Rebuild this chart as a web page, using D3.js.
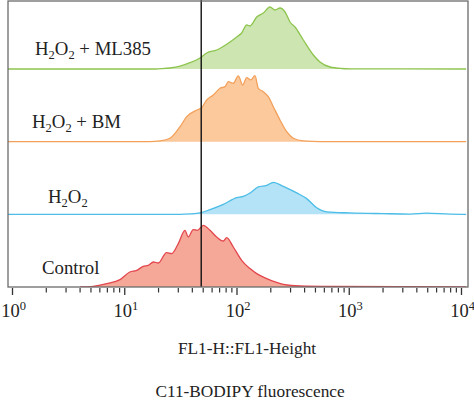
<!DOCTYPE html>
<html>
<head>
<meta charset="utf-8">
<script src="https://cdn.jsdelivr.net/npm/d3@7"></script>
<style>
  body { margin: 0; background: #fff; }
  text { font-family: "Liberation Serif", "DejaVu Serif", serif; fill: #222; }
</style>
</head>
<body>
<div id="chart"></div>
<script>
// samples, top lane first
const samples = ["H2O2 + ML385", "H2O2 + BM", "H2O2", "Control"]

// [FL1-H value, events]
const ml385Data = [[0.91, 0], [18, 0], [20.6, 0.3], [25.3, 1], [31.1, 2.8], [38.1, 6.3], [46.8, 11], [53.7, 16], [65.9, 19],
    [86.7, 27], [99.4, 32], [110, 36], [122, 44], [130.6, 43], [149.8, 52], [171.5, 56], [196.7, 62], [218, 59],
    [241.6, 61], [268, 57], [296.8, 47], [328.8, 42], [389.8, 29], [478.6, 14], [548.5, 7], [673, 2], [850, 0.5],
    [1016, 0.2], [11000, 0]]
const bmData = [[0.91, 0], [16.8, 0], [20.6, 0.7], [25.3, 3.4], [31.1, 15], [35.6, 25], [43.8, 31.7], [48.5, 34],
    [53.7, 41.7], [61.5, 46.7], [70.6, 53.4], [78.2, 55], [83.7, 60], [92.7, 58.4], [102.7, 65.7], [112.4, 56.7],
    [122, 64], [132.5, 61.7], [144.6, 66], [154.8, 53.4], [171.5, 50], [190, 45], [210.5, 35], [241.6, 21.7],
    [277.3, 10], [317.6, 3.4], [389.8, 0.7], [548, 0], [11000, 0]]
const h2o2Data = [[0.91, 0], [31.1, 0], [38.1, 0.4], [46.8, 1.4], [57.5, 4.7], [75.5, 10], [99.4, 16.7], [113.8, 18],
    [130.6, 21.3], [154.8, 27.4], [184, 29], [210.5, 32], [258.5, 28], [340.5, 21.4], [418, 15.7], [513, 6.5],
    [630, 2.4], [1016, 1.4], [2000, 0.7], [3476, 0.3], [4897, 1.2], [7900, 0.2], [11000, 0]]
const controlData = [[3.99, 0], [5.25, 0.7], [6.9, 3.4], [9.07, 7.4], [11.1, 15], [12.8, 16.7], [14.6, 20.7],
    [16.2, 21.7], [18, 25], [19.9, 24], [23.6, 34.4], [26.2, 33.4], [30, 43.4], [34.4, 56.7], [36.8, 50],
    [40.8, 57.4], [44.3, 56.7], [50.1, 61.7], [57.5, 56.7], [65.9, 50], [75.5, 46], [80.9, 49.4], [92.7, 40],
    [110, 26.7], [130.6, 18.4], [149.8, 13.4], [184, 8.4], [258.5, 2.7], [364, 1], [717, 0.5], [11000, 0]]

const histograms = [ml385Data, bmData, h2o2Data, controlData]
const lineColors = ["#8dc44e", "#f2a05a", "#4bbde6", "#e3464d"]
const fillColors = ["#cde6b1", "#fbc99c", "#b4e2f6", "#f5a898"]

const decades = [1, 10, 100, 1000, 10000]
const gateValue = 48

const xTitle = "FL1-H::FL1-Height"
const subTitle = "C11-BODIPY fluorescence"

let dimensions = {
    width: 474,
    height: 405,
    margin: {top: 1, right: 6, bottom: 118, left: 8},
}
const frameLeft = dimensions.margin.left
const frameRight = dimensions.width - dimensions.margin.right
const frameTop = dimensions.margin.top
const frameBottom = dimensions.height - dimensions.margin.bottom

const wrapper = d3.select("#chart")
    .append("svg")
    .attr("width", dimensions.width)
    .attr("height", dimensions.height)

const xScale = d3.scaleLog()
    .domain([1, 10000])
    .range([12.5, 461.5])

// baseline of each lane
const laneScale = d3.scalePoint()
    .domain(samples)
    .range([69, frameBottom])

const countScale = d3.scaleLinear()
    .domain([0, 70])
    .range([0, 70])

wrapper.append("defs").append("clipPath")
    .attr("id", "frame-clip")
    .append("rect")
    .attr("x", frameLeft)
    .attr("y", frameTop)
    .attr("width", frameRight - frameLeft)
    .attr("height", frameBottom - frameTop)

const plot = wrapper.append("g").attr("clip-path", "url(#frame-clip)")

samples.forEach((name, i) => {
    const base = laneScale(name)
    const area = d3.area()
        .x(d => xScale(d[0]))
        .y0(base)
        .y1(d => base - countScale(d[1]))
        .curve(d3.curveMonotoneX)
    const line = d3.line()
        .x(d => xScale(d[0]))
        .y(d => base - countScale(d[1]))
        .curve(d3.curveMonotoneX)
    plot.append("path")
        .attr("d", area(histograms[i]))
        .attr("fill", fillColors[i])
    plot.append("path")
        .attr("d", line(histograms[i]))
        .attr("fill", "none")
        .attr("stroke", lineColors[i])
        .attr("stroke-width", 1.3)
})

// gate line
wrapper.append("line")
    .attr("x1", xScale(gateValue)).attr("x2", xScale(gateValue))
    .attr("y1", 0).attr("y2", frameBottom)
    .attr("stroke", "#111")
    .attr("stroke-width", 1.4)

// frame
wrapper.append("rect")
    .attr("x", frameLeft)
    .attr("y", frameTop)
    .attr("width", frameRight - frameLeft)
    .attr("height", frameBottom - frameTop)
    .attr("fill", "none")
    .attr("stroke", "#6b6b6b")
    .attr("stroke-width", 1.3)

// log axis ticks
const minorTicks = []
decades.slice(0, -1).forEach(d => {
    for (let k = 2; k <= 9; k++) minorTicks.push(d * k)
})
const axis = wrapper.append("g")
    .attr("transform", "translate(0," + frameBottom + ")")
axis.selectAll(".minor")
    .data(minorTicks)
    .join("line")
    .attr("x1", d => xScale(d)).attr("x2", d => xScale(d))
    .attr("y1", 1).attr("y2", 5.5)
    .attr("stroke", "#333").attr("stroke-width", 1.2)
axis.selectAll(".major")
    .data(decades)
    .join("line")
    .attr("x1", d => xScale(d)).attr("x2", d => xScale(d))
    .attr("y1", 1).attr("y2", 8)
    .attr("stroke", "#333").attr("stroke-width", 1.3)

const tickLabels = axis.selectAll(".tick-label")
    .data(decades)
    .join("text")
    .attr("x", d => xScale(d) + 1)
    .attr("y", 30)
    .attr("text-anchor", "middle")
    .style("font-size", "18.5px")
tickLabels.append("tspan").text("10")
tickLabels.append("tspan")
    .attr("dy", -7)
    .style("font-size", "12.5px")
    .text(d => Math.round(Math.log10(d)))

// lane labels with subscripts
const labelPos = [[35, 55], [32, 128], [48, 203], [42, 274]]
samples.forEach((name, i) => {
    const t = wrapper.append("text")
        .attr("x", labelPos[i][0])
        .attr("y", labelPos[i][1])
        .style("font-size", "18.8px")
    if (name === "Control") {
        t.text(name)
        return
    }
    t.append("tspan").text("H")
    t.append("tspan").attr("dy", 4).style("font-size", "12.5px").text("2")
    t.append("tspan").attr("dy", -4).text("O")
    t.append("tspan").attr("dy", 4).style("font-size", "12.5px").text("2")
    const rest = name.replace("H2O2", "")
    if (rest) t.append("tspan").attr("dy", -4).text(rest.replace(/ /g, "\u00a0"))
})

wrapper.append("text")
    .attr("x", 247)
    .attr("y", 354)
    .attr("text-anchor", "middle")
    .style("font-size", "17.3px")
    .text(xTitle)

wrapper.append("text")
    .attr("x", 250)
    .attr("y", 397)
    .attr("text-anchor", "middle")
    .style("font-size", "17.3px")
    .text(subTitle)
</script>
</body>
</html>
